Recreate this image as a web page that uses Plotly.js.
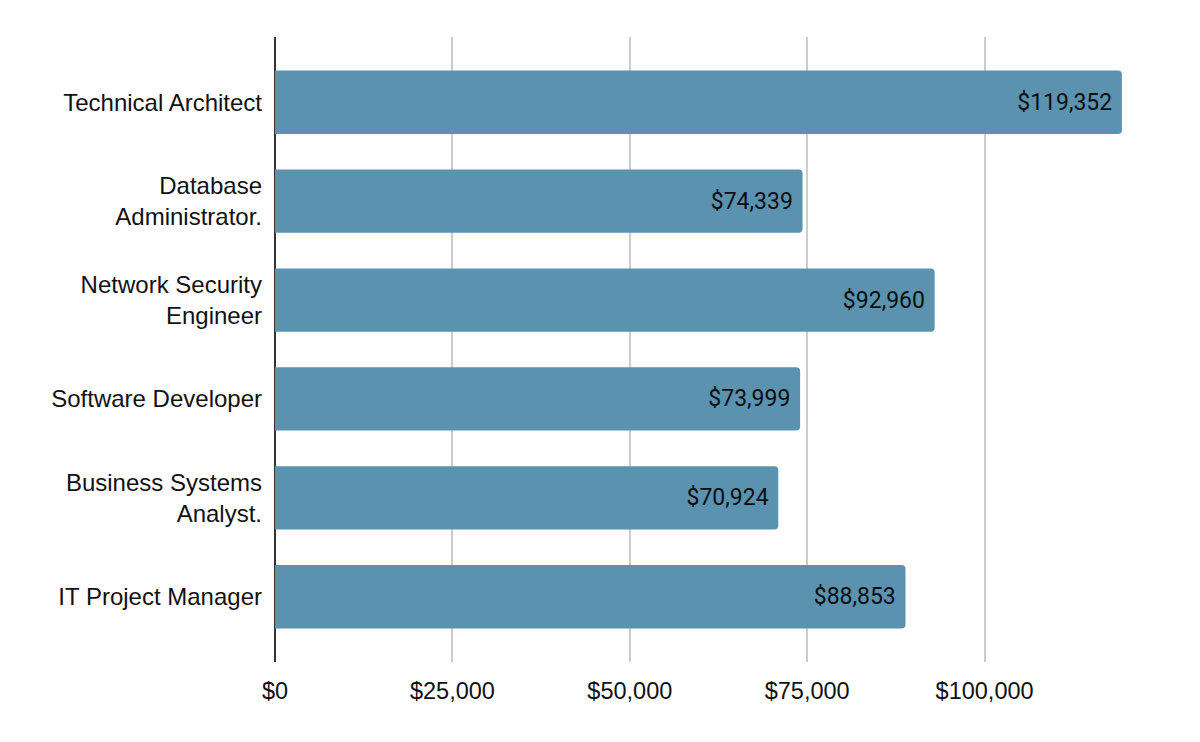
<!DOCTYPE html>
<html>
<head>
<meta charset="utf-8">
<script src="https://cdn.plot.ly/plotly-3.0.1.min.js"></script>
<style>
  html, body { margin: 0; padding: 0; background: #fff; }
  #chart { width: 1200px; height: 742px; }
</style>
</head>
<body>
<div id="chart"></div>
<script>
// IT job titles and average salaries, top to bottom
const roles = [
    "Technical Architect",
    "Database<br>Administrator.",
    "Network Security<br>Engineer",
    "Software Developer",
    "Business Systems<br>Analyst.",
    "IT Project Manager"
];
const salaries = [119352, 74339, 92960, 73999, 70924, 88853];

const tickValues = [0, 25000, 50000, 75000, 100000, 125000];
const tickLabels = ["$0", "$25,000", "$50,000", "$75,000", "$100,000", ""];

const trace = {
    type: "bar",
    orientation: "h",
    x: salaries,
    y: roles,
    marker: { color: "#5a92b0", cornerradius: 4 },
    texttemplate: "$%{x:,}\u00a0",
    textposition: "inside",
    insidetextanchor: "end",
    textangle: 0,
    constraintext: "none",
    insidetextfont: { family: "Roboto", size: 23, color: "#0d0d0d" },
    hoverinfo: "none"
};

const layout = {
    width: 1200,
    height: 742,
    paper_bgcolor: "#ffffff",
    plot_bgcolor: "#ffffff",
    margin: { t: 37, r: 38, b: 80, l: 275 },
    font: { family: "Liberation Sans, Arial, sans-serif", size: 23.5, color: "#111111" },
    bargap: 0.36,
    showlegend: false,
    xaxis: {
        range: [0, 125000],
        tickvals: tickValues,
        ticktext: tickLabels,
        showgrid: true,
        gridcolor: "#cccccc",
        gridwidth: 2,
        zeroline: true,
        zerolinecolor: "#333333",
        zerolinewidth: 2,
        showline: false,
        ticks: "",
        ticklabelstandoff: 12,
        fixedrange: true
    },
    yaxis: {
        type: "category",
        range: [5.66, -0.66],
        showgrid: false,
        zeroline: false,
        showline: false,
        ticks: "",
        tickfont: { size: 24 },
        ticklabelstandoff: 12,
        fixedrange: true
    }
};

Plotly.newPlot("chart", [trace], layout, { staticPlot: true, displayModeBar: false });
</script>
</body>
</html>
